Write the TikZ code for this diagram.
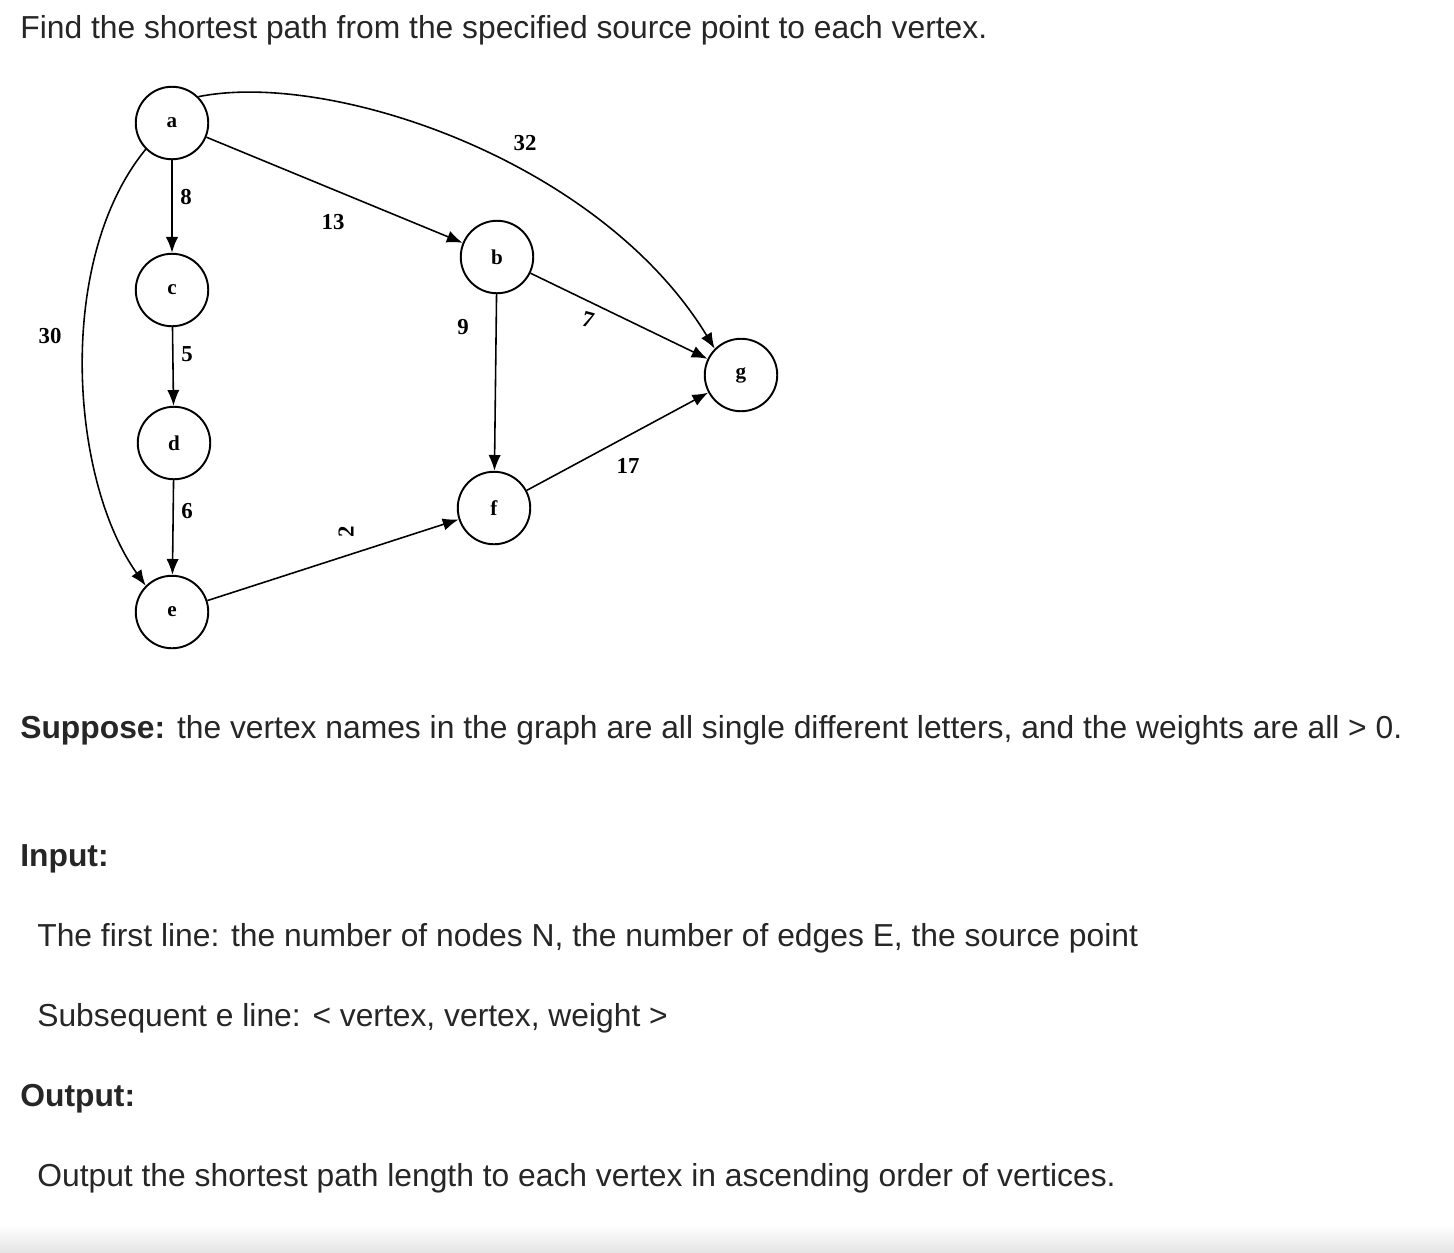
\documentclass[tikz,border=0pt]{standalone}
\usepackage{fontspec}
\setmainfont{Liberation Sans}
\newfontfamily\gser{Liberation Serif}
\usetikzlibrary{arrows.meta}
\begin{document}
\begin{tikzpicture}[x=0.02cm,y=-0.02cm,
  vtx/.style={circle,draw,line width=1.1pt,minimum size=1.45cm,inner sep=0pt,font=\gser\bfseries\fontsize{12}{12}\selectfont},
  edge/.style={line width=0.9pt,-{Latex[length=9pt,width=7pt]}},
  wt/.style={font=\gser\bfseries\fontsize{13}{13}\selectfont},
  txt/.style={anchor=base west,inner sep=0pt,font=\fontsize{18.1}{18.1}\selectfont,text=black!85}]
\useasboundingbox (0,0) rectangle (1454,1252);
\shade[top color=white,bottom color=black!10] (0,1225) rectangle (1454,1252);
\node[txt] (t1) at (20,38) {Find the shortest path from the specified source point to each vertex.};
\node[vtx] (a) at (172,123) {a};
\node[vtx] (c) at (172,290) {c};
\node[vtx] (d) at (174,443) {d};
\node[vtx] (e) at (172,612) {e};
\node[vtx] (b) at (497,257) {b};
\node[vtx] (f) at (494,508) {f};
\node[vtx] (g) at (741,375) {g};
\draw[edge] (a) -- (c);
\draw[edge] (c) -- (d);
\draw[edge] (d) -- (e);
\draw[edge] (a) -- (b);
\draw[edge] (b) -- (f);
\draw[edge] (b) -- (g);
\draw[edge] (f) -- (g);
\draw[edge] (e) -- (f);
\draw[edge] (a.north east) .. controls (330,70) and (600,160) .. (g.north west);
\draw[edge] (a.south west) .. controls (55,260) and (70,480) .. (e.north west);
\node[wt] at (186,197) {8};
\node[wt] at (187,354) {5};
\node[wt] at (187,511) {6};
\node[wt] at (333,222) {13};
\node[wt] at (525,143) {32};
\node[wt] at (50,336) {30};
\node[wt] at (463,327) {9};
\node[wt,rotate=-15] at (588,320) {7};
\node[wt] at (628,466) {17};
\node[wt,rotate=90] at (346,532) {2};
\node[txt] (t2) at (20,738) {\textbf{Suppose:} the vertex names in the graph are all single different letters, and the weights are all > 0.};
\node[txt] (t3) at (20,866) {\textbf{Input:}};
\node[txt] (t4) at (37,946) {The first line: the number of nodes N, the number of edges E, the source point};
\node[txt] (t5) at (37,1026) {Subsequent e line: < vertex, vertex, weight >};
\node[txt] (t6) at (20,1106) {\textbf{Output:}};
\node[txt] (t7) at (37,1186) {Output the shortest path length to each vertex in ascending order of vertices.};
\end{tikzpicture}
\end{document}
